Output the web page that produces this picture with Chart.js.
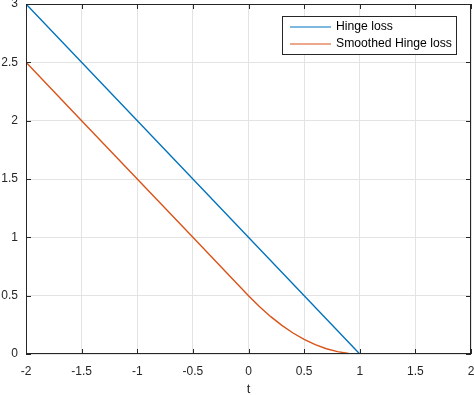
<!DOCTYPE html>
<html>
<head>
<meta charset="utf-8">
<script src="https://cdn.jsdelivr.net/npm/chart.js@4/dist/chart.umd.min.js"></script>
<style>
  html, body { margin: 0; padding: 0; background: #fff; }
  #wrap { width: 474px; height: 395px; }
</style>
</head>
<body>
<div id="wrap"><canvas id="lossChart"></canvas></div>
<script>
// values
const hingeT = [-2, 1, 2];
const hingeLoss = [3, 0, 0];
const smoothT = [-2, -1.5, -1, -0.5, 0, 0.1, 0.2, 0.3, 0.4, 0.5, 0.6, 0.7, 0.8, 0.9, 1, 1.5, 2];
const smoothLoss = [2.5, 2, 1.5, 1, 0.5, 0.405, 0.32, 0.245, 0.18, 0.125, 0.08, 0.045, 0.02, 0.005, 0, 0, 0];
const xTicks = [-2, -1.5, -1, -0.5, 0, 0.5, 1, 1.5, 2];
const yTicks = [0, 0.5, 1, 1.5, 2, 2.5, 3];
const seriesNames = ['Hinge loss', 'Smoothed Hinge loss'];
const seriesColors = ['#0072BD', '#D95319'];

const axisColor = '#262626';
const fontFamily = '"Liberation Sans", Arial, Helvetica, sans-serif';

function toPoints(xs, ys) {
  return xs.map((x, i) => ({ x: x, y: ys[i] }));
}

// box, inward ticks and legend, matlab style
const axesBox = {
  id: 'axesBox',
  afterDraw(chart) {
    const ctx = chart.ctx;
    const a = chart.chartArea;
    const xs = chart.scales.x, ys = chart.scales.y;
    ctx.save();
    ctx.strokeStyle = axisColor;
    ctx.lineWidth = 1;
    ctx.strokeRect(a.left + 0.5, a.top + 0.5, a.right - a.left - 1, a.bottom - a.top - 1);
    ctx.beginPath();
    xTicks.forEach(v => {
      const px = Math.round(xs.getPixelForValue(v)) + 0.5;
      ctx.moveTo(px, a.bottom); ctx.lineTo(px, a.bottom - 5);
      ctx.moveTo(px, a.top); ctx.lineTo(px, a.top + 5);
    });
    yTicks.forEach(v => {
      const py = Math.round(ys.getPixelForValue(v)) + 0.5;
      ctx.moveTo(a.left, py); ctx.lineTo(a.left + 5, py);
      ctx.moveTo(a.right, py); ctx.lineTo(a.right - 5, py);
    });
    ctx.stroke();

    // legend
    const lx = 282, ly = 16, lw = 174, lh = 38;
    ctx.fillStyle = '#fff';
    ctx.fillRect(lx, ly, lw, lh);
    ctx.strokeStyle = axisColor;
    ctx.strokeRect(lx + 0.5, ly + 0.5, lw, lh);
    ctx.font = '12.2px ' + fontFamily;
    ctx.textBaseline = 'middle';
    ctx.textAlign = 'left';
    seriesNames.forEach((name, i) => {
      const y = ly + 11 + i * 17;
      ctx.strokeStyle = seriesColors[i];
      ctx.lineWidth = 1.2;
      ctx.beginPath();
      ctx.moveTo(lx + 8, y); ctx.lineTo(lx + 49, y);
      ctx.stroke();
      ctx.fillStyle = '#000';
      ctx.fillText(name, lx + 54, y);
    });
    ctx.restore();
  }
};

new Chart(document.getElementById('lossChart'), {
  type: 'line',
  data: {
    datasets: [
      { label: seriesNames[0], data: toPoints(hingeT, hingeLoss), borderColor: seriesColors[0] },
      { label: seriesNames[1], data: toPoints(smoothT, smoothLoss), borderColor: seriesColors[1] }
    ]
  },
  options: {
    responsive: true,
    maintainAspectRatio: false,
    animation: false,
    elements: {
      line: { borderWidth: 1.4, tension: 0, fill: false },
      point: { radius: 0 }
    },
    layout: { padding: { top: 4, right: 3, left: 0, bottom: -2 } },
    plugins: { legend: { display: false }, tooltip: { enabled: false } },
    scales: {
      x: {
        type: 'linear',
        min: -2, max: 2,
        afterBuildTicks: s => { s.ticks = xTicks.map(v => ({ value: v })); },
        afterFit: s => { s.height = 43; s.paddingLeft = 0; s.paddingRight = 0; },
        grid: { color: '#e3e3e3', drawTicks: false },
        border: { display: false },
        ticks: { color: axisColor, font: { family: fontFamily, size: 12 }, padding: 10, maxRotation: 0,
                 callback: v => String(v) },
        title: { display: true, text: 't', color: axisColor, font: { family: fontFamily, size: 13 }, padding: 0 }
      },
      y: {
        min: 0, max: 3,
        afterBuildTicks: s => { s.ticks = yTicks.map(v => ({ value: v })); },
        afterFit: s => { s.width = 26; s.paddingTop = 0; s.paddingBottom = 0; },
        grid: { color: '#e3e3e3', drawTicks: false },
        border: { display: false },
        ticks: { color: axisColor, font: { family: fontFamily, size: 12 }, padding: 8,
                 callback: v => String(v) }
      }
    }
  },
  plugins: [axesBox]
});
</script>
</body>
</html>
